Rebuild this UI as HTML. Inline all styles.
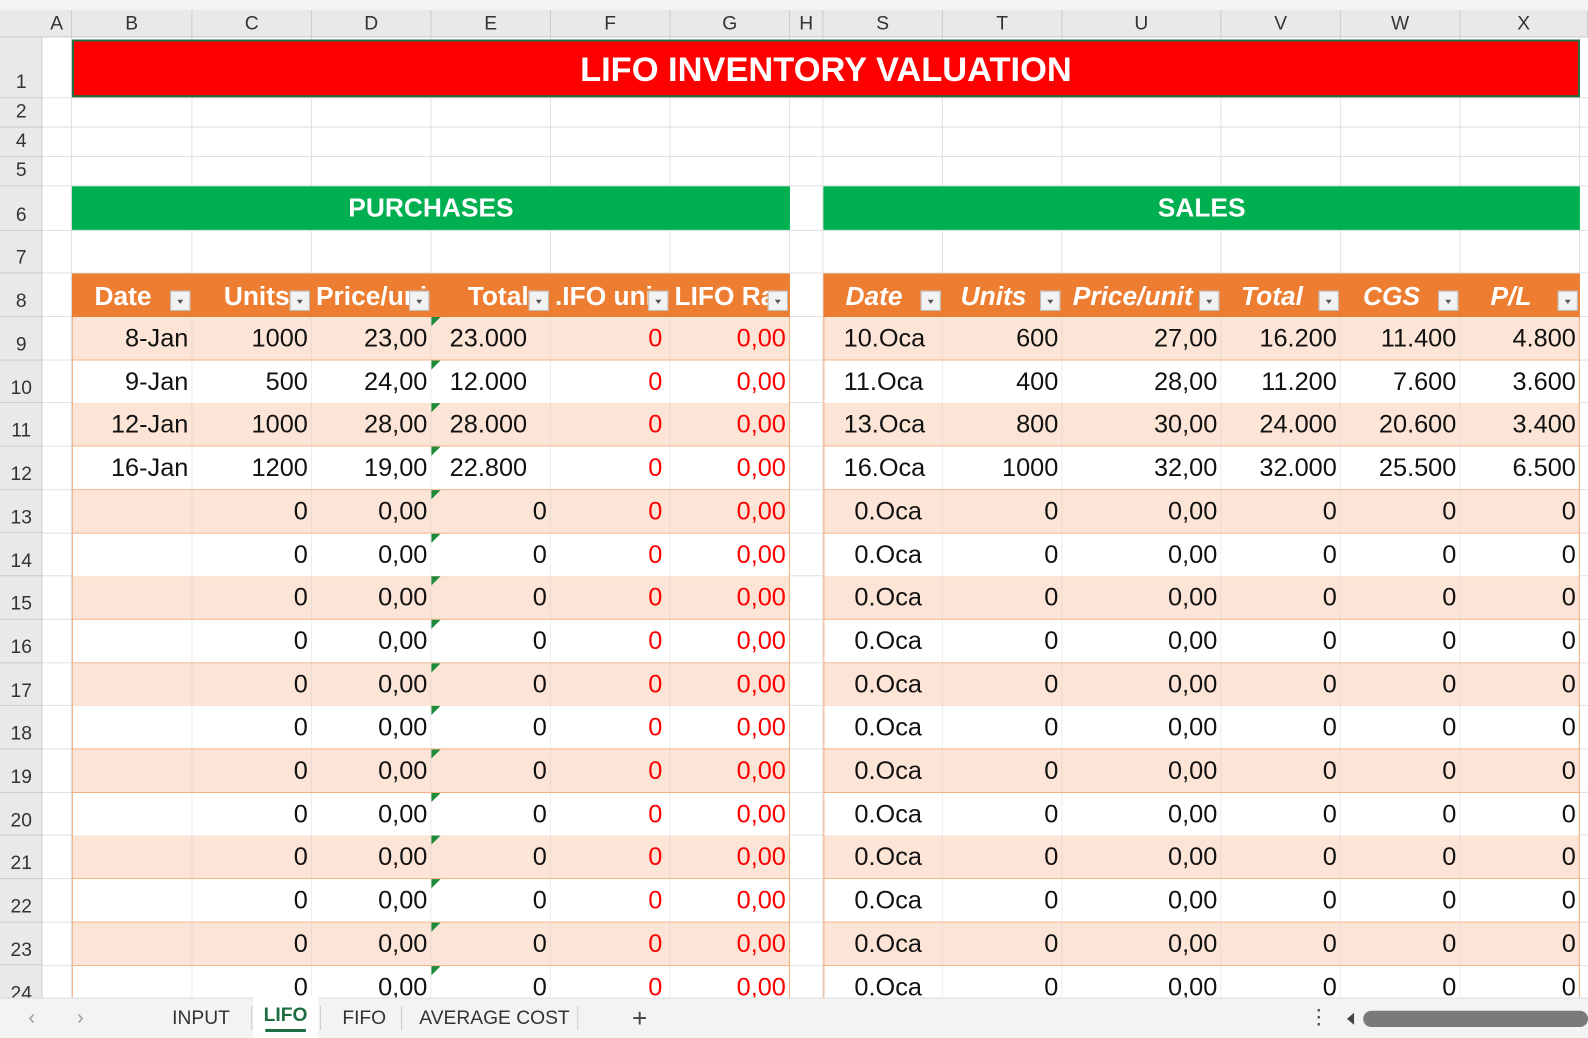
<!DOCTYPE html>
<html><head><meta charset="utf-8">
<style>
html,body{margin:0;padding:0;width:1588px;height:1038px;overflow:hidden;background:#fff;}
#root{position:absolute;left:0;top:0;width:1568px;height:1025px;transform:scale(1.01276);transform-origin:0 0;font-family:"Liberation Sans",sans-serif;}
.a{position:absolute;box-sizing:border-box;}
.t{position:absolute;box-sizing:border-box;white-space:nowrap;overflow:hidden;font-size:25px;line-height:42px;padding:0 4px;}
.dd{position:absolute;width:20px;height:20px;background:#f2f2f2;border:1px solid #bbb;box-sizing:border-box;}
.dd:after{content:"";position:absolute;left:6px;top:8px;border-left:3px solid transparent;border-right:3px solid transparent;border-top:4px solid #555;}
</style></head><body>
<div id="root"></div>
<script>
const colLetters=["A","B","C","D","E","F","G","H","S","T","U","V","W","X"];
const colEdges=[42,71,190,308,426,544,662,780,813,931,1049,1206,1324,1442,1560];
const rowLabels=["1","2","4","5","6","7","8","9","10","11","12","13","14","15","16","17","18","19","20","21","22","23","24"];
const purchaseHeaders=["Date","Units","Price/uni","Total",".IFO uni","LIFO Ra"];
const salesHeaders=["Date","Units","Price/unit","Total","CGS","P/L"];
const pDates=["8-Jan","9-Jan","12-Jan","16-Jan"];
const pUnits=["1000","500","1000","1200"];
const pPrice=["23,00","24,00","28,00","19,00"];
const pTotal=["23.000","12.000","28.000","22.800"];
const sDates=["10.Oca","11.Oca","13.Oca","16.Oca"];
const sUnits=["600","400","800","1000"];
const sPrice=["27,00","28,00","30,00","32,00"];
const sTotal=["16.200","11.200","24.000","32.000"];
const sCGS=["11.400","7.600","20.600","25.500"];
const sPL=["4.800","3.600","3.400","6.500"];
const R=document.getElementById('root');
function mk(cls,x,y,w,h,css,txt){const d=document.createElement('div');d.className=cls;d.style.left=x+'px';d.style.top=y+'px';d.style.width=w+'px';d.style.height=h+'px';if(css)d.style.cssText+=css;if(txt!==undefined)d.textContent=txt;R.appendChild(d);return d;}
const rowTops=[37,97,126,155,184,228,270];
for(let i=0;i<16;i++)rowTops.push(313+i*42.7);
rowTops.push(996);
let e=mk('a',0,0,1568,37,'background:#f3f3f3;');

e=mk('a',0,10,1568,27,'background:#e9e9e9;border-bottom:1px solid #ccc;');

for(let i=0;i<colLetters.length;i++){
 const x=colEdges[i],w=(i==colLetters.length-1?1568:colEdges[i+1])-x;
 e=mk('t',x,10,w,27,'text-align:center;font-size:19px;line-height:27px;color:#333;border-right:1px solid #ccc;padding:0;',colLetters[i]);
 
}
e=mk('a',0,37,42,959,'background:#e9e9e9;border-right:1px solid #ccc;');

for(let i=0;i<rowLabels.length;i++){
 const y=rowTops[i],h=rowTops[i+1]-y;
 e=mk('t',0,y,42,h,'font-size:19px;line-height:'+(h*2-30)+'px;color:#333;text-align:center;border-bottom:1px solid #ccc;padding:0;',rowLabels[i]);
 
}
for(let i=1;i<colEdges.length;i++){e=mk('a',colEdges[i]-1,37,1,959,'background:#e0e0e0;');}
for(let i=1;i<rowTops.length;i++){e=mk('a',42,rowTops[i]-1,1526,1,'background:#e0e0e0;');}
e=mk('t',71,39,1489,57,'background:#ff0000;color:#fff;font-weight:bold;font-size:34px;line-height:57px;text-align:center;border:2px solid #1e6e42;','LIFO INVENTORY VALUATION');

e=mk('t',71,184,709,43,'background:#00b050;color:#fff;font-weight:bold;font-size:26px;line-height:43px;text-align:center;','PURCHASES');

e=mk('t',813,184,747,43,'background:#00b050;color:#fff;font-weight:bold;font-size:26px;line-height:43px;text-align:center;','SALES');

function tableBlock(x0,x1,name){
 e=mk('a',x0,270,x1-x0,43,'background:#ed7d31;');
 
 for(let r=0;r<16;r++){
  const y=313+r*42.7;
  e=mk('a',x0,y,x1-x0,43,'background:'+(r%2==0?'#fce4d6':'#fff')+';border-bottom:1px solid #f4b183;');
  
 }
 e=mk('a',x0,313,1,683,'background:#f4b183;');
 e=mk('a',x1-1,313,1,683,'background:#f4b183;');
}
tableBlock(71,780,'purchases');
tableBlock(813,1560,'sales');
for(const c of [190,308,426,544,662,931,1049,1206,1324,1442]){e=mk('a',c-1,313,1,683,'background:rgba(200,200,200,0.35);');}
function headers(list,start,italic,name){
 for(let i=0;i<list.length;i++){
  const x=colEdges[start+i],w=colEdges[start+i+1]-x;
  e=mk('t',x,270,w,43,'color:#fff;font-weight:bold;font-size:26px;line-height:44px;text-align:'+(i==0||name=='sales'?'center':'right')+';padding-right:22px;'+(italic?'font-style:italic;':''),list[i]);
  
  e=mk('dd',x+w-22,287,20,20);
  
 }
}
headers(purchaseHeaders,1,false,'purchases');
headers(salesHeaders,8,true,'sales');
function cell(col,r,txt,color,align,name,extra){
 const x=colEdges[col],w=colEdges[col+1]-x,y=313+r*42.7;
 e=mk('t',x,y,w,43,'text-align:'+(align||'right')+';color:'+(color||'#111')+';'+(extra||''),txt);
 
}
for(let r=0;r<16;r++){
 const has=r<pDates.length;
 if(has)cell(1,r,pDates[r],null,'right','purchase-date');
 cell(2,r,has?pUnits[r]:'0',null,'right','purchase-units');
 cell(3,r,has?pPrice[r]:'0,00',null,'right','purchase-price');
 cell(4,r,has?pTotal[r]:'0',null,has?'left':'right','purchase-total',has?'padding-left:18px;':'');
 cell(5,r,'0','#ff0000','right','lifo-units','padding-right:8px;');
 cell(6,r,'0,00','#ff0000','right','lifo-rate');
 e=mk('a',426,313+r*42.7,0,0,'border-top:9px solid #1e8a3a;border-right:9px solid transparent;');
 
 const hs=r<sDates.length;
 cell(8,r,hs?sDates[r]:'0.Oca',null,hs?'left':'center','sale-date',hs?'padding-left:20px;':'padding-left:14px;');
 cell(9,r,hs?sUnits[r]:'0',null,'right','sale-units');
 cell(10,r,hs?sPrice[r]:'0,00',null,'right','sale-price');
 cell(11,r,hs?sTotal[r]:'0',null,'right','sale-total');
 cell(12,r,hs?sCGS[r]:'0',null,'right','sale-cgs');
 cell(13,r,hs?sPL[r]:'0',null,'right','sale-pl');
}
e=mk('a',0,985,1568,40,'background:#f3f3f3;border-top:1px solid #ddd;');

e=mk('t',28,985,24,40,'font-size:20px;line-height:40px;color:#999;padding:0;','‹');
e=mk('t',76,985,24,40,'font-size:20px;line-height:40px;color:#999;padding:0;','›');
const tabs=[["INPUT",170,"tab-input"],["FIFO",338,"tab-fifo"],["AVERAGE COST",414,"tab-average-cost"]];
for(const t of tabs){e=mk('t',t[1],985,160,40,'font-size:19px;line-height:42px;color:#333;padding:0;',t[0]);}
e=mk('t',250,983,64,42,'background:#fff;font-size:19px;line-height:40px;color:#1e6e42;text-align:center;padding:0;font-weight:bold;','LIFO');
e=mk('a',262,1016,40,3,'background:#1e6e42;');
for(const x of [248,316,396,570]){e=mk('a',x,993,1,24,'background:#ccc;');}
e=mk('t',624,985,30,40,'font-size:26px;line-height:40px;color:#444;padding:0;','+');
e=mk('t',1292,985,14,40,'font-size:20px;line-height:40px;color:#444;padding:0;','⋮');
e=mk('a',1330,1000,0,0,'border-top:6px solid transparent;border-bottom:6px solid transparent;border-right:7px solid #444;');
e=mk('a',1346,998,222,16,'background:#7a7a7a;border-radius:8px;');
</script>
</body></html>
